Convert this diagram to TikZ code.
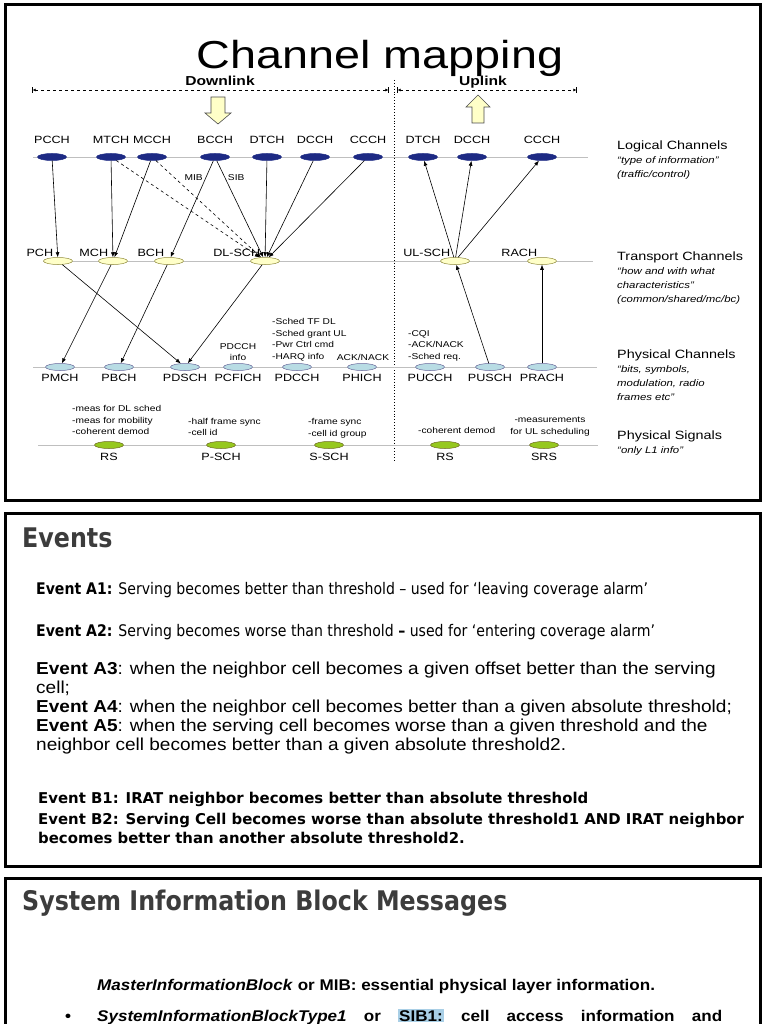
\documentclass[tikz,border=0pt]{standalone}
\usepackage{fontspec}
\setmainfont{Liberation Sans}
\newfontfamily\chanfont[FakeStretch=1.2]{Liberation Sans}
\newfontfamily\widefont[FakeStretch=1.1]{Liberation Sans}
\newfontfamily\tahoma[FakeStretch=0.88]{DejaVu Sans}
\newfontfamily\verdana{DejaVu Sans}
\usetikzlibrary{arrows.meta,shapes.geometric}
\definecolor{logicblue}{HTML}{1D2A84}
\definecolor{transfill}{HTML}{FFFFC8}
\definecolor{physfill}{HTML}{B8DCE4}
\definecolor{sigfill}{HTML}{96C81E}
\definecolor{titlegray}{HTML}{3C3C3C}
\definecolor{sibmark}{HTML}{A9CFE6}

\begin{document}
\begin{tikzpicture}[
  x=1pt, y=-1pt,
  panel/.style={draw=black, line width=3pt},
  layer/.style={draw=gray!50, line width=0.9pt},
  chan/.style={ellipse, inner sep=0pt, minimum width=29pt, minimum height=7pt, line width=0.5pt},
  chname/.style={font=\chanfont\fontsize{10.5}{12}\selectfont, inner sep=1pt},
  logical/.style={chan, draw=logicblue, fill=logicblue, label={[chname, label distance=8pt]above:#1}},
  transport/.style={chan, draw=olive!60!gray, fill=transfill, label={[chname]above left:#1}},
  physical/.style={chan, draw=gray!80!blue, fill=physfill, label={[chname, label distance=2pt]below:#1}},
  signal/.style={chan, draw=olive!70!black, fill=sigfill, label={[chname, label distance=3pt]below:#1}},
  note/.style={font=\chanfont\fontsize{8.5}{11.5}\selectfont, align=left, inner sep=0pt},
  side/.style={font=\chanfont\fontsize{12}{14}\selectfont, align=left, anchor=north west, inner sep=0pt},
  map/.style={-{Latex[length=5pt,width=4pt]}, line width=0.6pt},
  dimline/.style={|<->|, >={Latex[length=3pt,width=3pt]}, dashed, line width=0.6pt},
  bigarrow/.style={draw=black!70, fill=transfill, line width=0.6pt},
  evline/.style={anchor=base west, inner sep=0pt, font=\tahoma\fontsize{16}{18}\selectfont},
  armline/.style={anchor=base west, inner sep=0pt, font=\widefont\fontsize{17.3}{20}\selectfont},
  bline/.style={anchor=base west, inner sep=0pt, font=\verdana\bfseries\fontsize{14.9}{18}\selectfont},
  heading/.style={anchor=base west, inner sep=0pt, text=titlegray, font=\tahoma\bfseries\fontsize{27}{30}\selectfont}
]
\useasboundingbox (0,0) rectangle (768,1024);
\clip (0,0) rectangle (768,1024);
\fill[white] (0,0) rectangle (768,1024);

% three slides
\draw[panel] (5,5) rectangle (760,500);
\draw[panel] (5,513) rectangle (760,866);
\draw[panel] (5,878) rectangle (760,1040);

%% channel mapping
\node[font=\chanfont\fontsize{39}{44}\selectfont, anchor=base] (title) at (380,69) {Channel mapping};
\node[font=\chanfont\bfseries\fontsize{13}{15}\selectfont] (dltext) at (220,81) {Downlink};
\node[font=\chanfont\bfseries\fontsize{13}{15}\selectfont] (ultext) at (483,82) {Uplink};

\coordinate (dlleft) at (32,90);
\coordinate (dlright) at (389,90);
\coordinate (ulleft) at (397,90);
\coordinate (ulright) at (577,90);
\coordinate (sepTop) at (394,80);
\coordinate (sepBot) at (394,462);
\draw[dimline] (dlleft) -- (dlright);
\draw[dimline] (ulleft) -- (ulright);
\draw[dotted, line width=0.9pt] (sepTop) -- (sepBot);

\draw[bigarrow] (211,97) -- (225,97) -- (225,113) -- (231,113) -- (218,124) -- (205,113) -- (211,113) -- cycle;
\draw[bigarrow] (472,123) -- (484,123) -- (484,107) -- (490,107) -- (478,95) -- (466,107) -- (472,107) -- cycle;

% layers
\draw[layer] (33,157) -- (588,157);
\draw[layer] (43,261) -- (593,261);
\draw[layer] (33,367) -- (597,367);
\draw[layer] (38,445) -- (598,445);

% logical channels
\node[logical=PCCH] (pcch) at (52,157) {};
\node[logical=MTCH] (mtch) at (111,157) {};
\node[logical=MCCH] (mcch) at (152,157) {};
\node[logical=BCCH] (bcch) at (215,157) {};
\node[logical=DTCH] (dtch) at (267,157) {};
\node[logical=DCCH] (dcch) at (315,157) {};
\node[logical=CCCH] (ccch) at (368,157) {};
\node[logical=DTCH] (dtchu) at (423,157) {};
\node[logical=DCCH] (dcchu) at (472,157) {};
\node[logical=CCCH] (ccchu) at (542,157) {};

% transport channels
\node[transport=PCH] (pch) at (58,261) {};
\node[transport=MCH] (mch) at (113,261) {};
\node[transport=BCH] (bch) at (169,261) {};
\node[transport=DL-SCH] (dlsch) at (265,261) {};
\node[transport=UL-SCH] (ulsch) at (455,261) {};
\node[transport=RACH] (rach) at (542,261) {};

% physical channels
\node[physical=PMCH] (pmch) at (60,367) {};
\node[physical=PBCH] (pbch) at (119,367) {};
\node[physical=PDSCH] (pdsch) at (185,367) {};
\node[physical=PCFICH] (pcfich) at (238,367) {};
\node[physical=PDCCH] (pdcch) at (297,367) {};
\node[physical=PHICH] (phich) at (362,367) {};
\node[physical=PUCCH] (pucch) at (430,367) {};
\node[physical=PUSCH] (pusch) at (490,367) {};
\node[physical=PRACH] (prach) at (542,367) {};

% physical signals
\node[signal=RS] (rsdl) at (109,445) {};
\node[signal=P-SCH] (psch) at (221,445) {};
\node[signal=S-SCH] (ssch) at (329,445) {};
\node[signal=RS] (rsul) at (445,445) {};
\node[signal=SRS] (srs) at (544,445) {};

% small notes
\node[note, anchor=south, align=center] (pcfichnote) at (238,361) {PDCCH\\info};
\node[note, anchor=south west] (pdcchnote) at (272,361) {-Sched TF DL\\-Sched grant UL\\-Pwr Ctrl cmd\\-HARQ info};
\node[note, anchor=south] (phichnote) at (363,361) {ACK/NACK};
\node[note, anchor=south west] (pucchnote) at (408,361) {-CQI\\-ACK/NACK\\-Sched req.};
\node[note, anchor=south west] (rsnote) at (72,435) {-meas for DL sched\\-meas for mobility\\-coherent demod};
\node[note, anchor=south west] (pschnote) at (188,436) {-half frame sync\\-cell id};
\node[note, anchor=south west] (sschnote) at (308,438) {-frame sync\\-cell id group};
\node[note, anchor=south west] (rsulnote) at (418,434) {-coherent demod};
\node[note, anchor=south, align=center] (srsnote) at (550,436) {-measurements\\for UL scheduling};

% layer captions
\node[side] (logcap) at (617,141) {Logical Channels\\{\fontsize{9.5}{14}\selectfont\itshape “type of information”}\\{\fontsize{9.5}{14}\selectfont\itshape (traffic/control)}};
\node[side] (trcap) at (617,252) {Transport Channels\\{\fontsize{9.5}{14}\selectfont\itshape “how and with what}\\{\fontsize{9.5}{14}\selectfont\itshape characteristics”}\\{\fontsize{9.5}{14}\selectfont\itshape (common/shared/mc/bc)}};
\node[side] (phcap) at (617,350) {Physical Channels\\{\fontsize{9.5}{14}\selectfont\itshape “bits, symbols,}\\{\fontsize{9.5}{14}\selectfont\itshape modulation, radio}\\{\fontsize{9.5}{14}\selectfont\itshape frames etc”}};
\node[side] (sgcap) at (617,431) {Physical Signals\\{\fontsize{9.5}{14}\selectfont\itshape “only L1 info”}};

% downlink mapping
\draw[map] (pcch) -- (pch);
\draw[map] (mtch) -- (mch);
\draw[map] (mcch) -- (mch);
\draw[map] (bcch) -- node[note, pos=0.17, left=3pt] {MIB} (bch);
\draw[map] (bcch) -- node[note, pos=0.17, right=3pt] {SIB} (dlsch);
\draw[map, dashed] (mtch) -- (dlsch);
\draw[map, dashed] (mcch) -- (dlsch);
\draw[map] (dtch) -- (dlsch);
\draw[map] (dcch) -- (dlsch);
\draw[map] (ccch) -- (dlsch);
\draw[map] (pch) -- (pdsch);
\draw[map] (mch) -- (pmch);
\draw[map] (bch) -- (pbch);
\draw[map] (dlsch) -- (pdsch);

% uplink mapping
\draw[map] (ulsch) -- (dtchu);
\draw[map] (ulsch) -- (dcchu);
\draw[map] (ulsch) -- (ccchu);
\draw[map] (pusch) -- (ulsch);
\draw[map] (prach) -- (rach);

%% events
\node[heading] (evtitle) at (22,547) {Events};
\node[evline] (evA1) at (36,594) {\textbf{Event A1:} Serving becomes better than threshold – used for ‘leaving coverage alarm’};
\node[evline] (evA2) at (36,636) {\textbf{Event A2:} Serving becomes worse than threshold \textbf{–} used for ‘entering coverage alarm’};
\node[armline] (evA3) at (36,674) {\textbf{Event A3}: when the neighbor cell becomes a given offset better than the serving};
\node[armline] (evA3b) at (36,693) {cell;};
\node[armline] (evA4) at (36,712) {\textbf{Event A4}: when the neighbor cell becomes better than a given absolute threshold;};
\node[armline] (evA5) at (36,731) {\textbf{Event A5}: when the serving cell becomes worse than a given threshold and the};
\node[armline] (evA5b) at (36,750) {neighbor cell becomes better than a given absolute threshold2.};
\node[bline] (evB1) at (38,803) {Event B1: IRAT neighbor becomes better than absolute threshold};
\node[bline] (evB2) at (38,824) {Event B2: Serving Cell becomes worse than absolute threshold1 AND IRAT neighbor};
\node[bline] (evB2b) at (38,843) {becomes better than another absolute threshold2.};

%% system information
\node[heading] (sibtitle) at (22,910) {System Information Block Messages};
\node[anchor=base west, inner sep=0pt, font=\widefont\bfseries\fontsize{15.5}{18}\selectfont] (mib) at (97,990) {\textit{MasterInformationBlock} or MIB: essential physical layer information.};
\node[anchor=base, inner sep=0pt, font=\widefont\bfseries\fontsize{15.5}{18}\selectfont] (dot) at (68,1021) {•};
\node[anchor=base west, inner sep=0pt, font=\widefont\bfseries\fontsize{15.5}{18}\selectfont] (sib) at (97,1021) {\makebox[625pt]{\textit{SystemInformationBlockType1}\hfill or\hfill{\fboxsep=1pt\colorbox{sibmark}{SIB1:}}\hfill cell\hfill access\hfill information\hfill and}};
\end{tikzpicture}
\end{document}
